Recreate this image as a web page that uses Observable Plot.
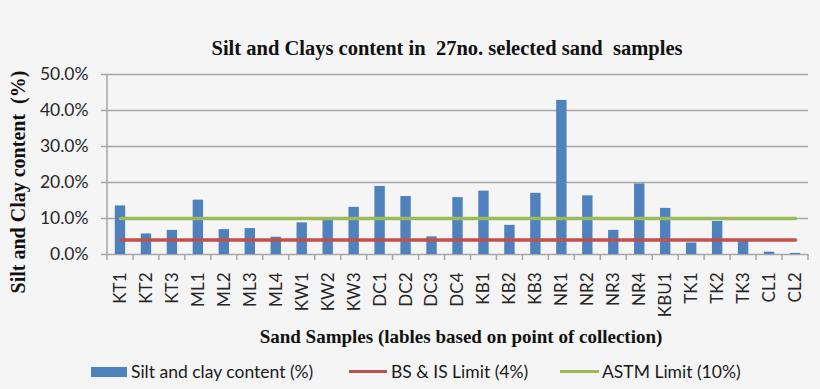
<!DOCTYPE html>
<html>
<head>
<meta charset="utf-8">
<script src="https://cdn.jsdelivr.net/npm/d3@7"></script>
<script src="https://cdn.jsdelivr.net/npm/@observablehq/plot@0.6"></script>
<style>
  html, body { margin: 0; padding: 0; background: #f5f5f5; }
  #wrap { position: relative; width: 820px; height: 389px; background: #f5f5f5; overflow: hidden; }
  #chart svg text { font-family: Lato, "Open Sans", sans-serif; font-size: 17px; fill: #262626; }
  #chart svg g[aria-label="y-axis tick label"] text, #chart svg g[aria-label="y-axis"] text { font-size: 17.5px; }
  .serif { font-family: "Liberation Serif", "DejaVu Serif", serif; font-weight: bold; color: #111; white-space: pre; position: absolute; line-height: 1; }
  .leg { position: absolute; font-family: Lato, "Open Sans", sans-serif; font-size: 17.5px; color: #1a1a1a; white-space: pre; line-height: 1; }
  .sw { position: absolute; }
</style>
</head>
<body>
<div id="wrap">
  <div id="chart"></div>
  <div class="serif" id="title" style="left:447px; top:38px; font-size:20.5px; transform: translateX(-50%);">Silt and Clays content in  27no. selected sand  samples</div>
  <div class="serif" id="ylab" style="left:18px; top:182px; font-size:20px; transform: translate(-50%,-50%) rotate(-90deg);">Silt and Clay content  (%)</div>
  <div class="serif" id="xlab" style="left:461px; top:327px; font-size:19px; transform: translateX(-50%);">Sand Samples (lables based on point of collection)</div>
  <div class="sw" style="left:91px; top:367px; width:36px; height:10px; background:#4f81bd;"></div>
  <div class="leg" style="left:131px; top:363px;">Silt and clay content (%)</div>
  <div class="sw" style="left:349px; top:370px; width:38px; height:3px; background:#c0504d;"></div>
  <div class="leg" style="left:391px; top:363px;">BS &amp; IS Limit (4%)</div>
  <div class="sw" style="left:560px; top:370px; width:39px; height:3px; background:#9bbb59;"></div>
  <div class="leg" style="left:602px; top:363px;">ASTM Limit (10%)</div>
</div>
<script>
const categories = ["KT1","KT2","KT3","ML1","ML2","ML3","ML4","KW1","KW2","KW3","DC1","DC2","DC3","DC4","KB1","KB2","KB3","NR1","NR2","NR3","NR4","KBU1","TK1","TK2","TK3","CL1","CL2"];
const siltClay = [13.5, 5.7, 6.7, 15.1, 6.9, 7.2, 4.8, 8.8, 9.8, 13.1, 18.9, 16.1, 4.9, 15.8, 17.6, 8.1, 17.0, 42.8, 16.3, 6.7, 19.6, 12.8, 3.2, 9.2, 3.6, 0.65, 0.3];
const bsLimit = 4;
const astmLimit = 10;
const yTicks = [0, 10, 20, 30, 40, 50];

const bars = categories.map((c, i) => ({sample: c, value: siltClay[i]}));
const bsLine = categories.map(c => ({sample: c, value: bsLimit}));
const astmLine = categories.map(c => ({sample: c, value: astmLimit}));

// axis line and tick marks between categories (Excel style)
function axisDecor(index, scales, values, dimensions) {
  const {width, marginLeft, marginRight} = dimensions;
  const x = scales.x, y = scales.y;
  const step = x.step ? x.step() : (width - marginLeft - marginRight) / categories.length;
  const bw = x.bandwidth ? x.bandwidth() : step * 0.4;
  const y0 = y(0);
  const g = document.createElementNS("http://www.w3.org/2000/svg", "g");
  const mk = (x1, y1, x2, y2) => {
    const l = document.createElementNS("http://www.w3.org/2000/svg", "line");
    l.setAttribute("x1", x1); l.setAttribute("y1", y1);
    l.setAttribute("x2", x2); l.setAttribute("y2", y2);
    l.setAttribute("stroke", "#a6a6a6"); l.setAttribute("stroke-width", 1.5);
    g.appendChild(l);
  };
  const left = x(categories[0]) - (step - bw) / 2;
  mk(left, y(50), left, y0 + 6);
  categories.forEach(c => {
    const b = x(c) + bw + (step - bw) / 2;
    mk(b, y0, b, y0 + 6);
  });
  return g;
}

const chart = Plot.plot({
  width: 820,
  height: 389,
  marginTop: 74,
  marginRight: 12,
  marginBottom: 135,
  marginLeft: 107,
  style: {background: "transparent", fontFamily: "Lato, sans-serif", fontSize: "17px", color: "#262626", overflow: "visible"},
  x: {domain: categories, paddingInner: 0.6, paddingOuter: 0.3, align: 0.5, round: false, tickSize: 0, tickPadding: 18, tickRotate: -90, label: null},
  y: {domain: [0, 50], ticks: yTicks, tickFormat: d => d.toFixed(1) + "%", tickSize: 0, tickPadding: 19, label: null},
  marks: [
    Plot.ruleY(yTicks, {y: d => d, stroke: "#a6a6a6", strokeWidth: 1.5, insetLeft: -6}),
    axisDecor,
    Plot.barY(bars, {x: "sample", y: "value", fill: "#4f81bd"}),
    Plot.lineY(bsLine, {x: "sample", y: "value", stroke: "#c0504d", strokeWidth: 3.5}),
    Plot.lineY(astmLine, {x: "sample", y: "value", stroke: "#9bbb59", strokeWidth: 3.5})
  ]
});
document.getElementById("chart").appendChild(chart);
</script>
</body>
</html>
